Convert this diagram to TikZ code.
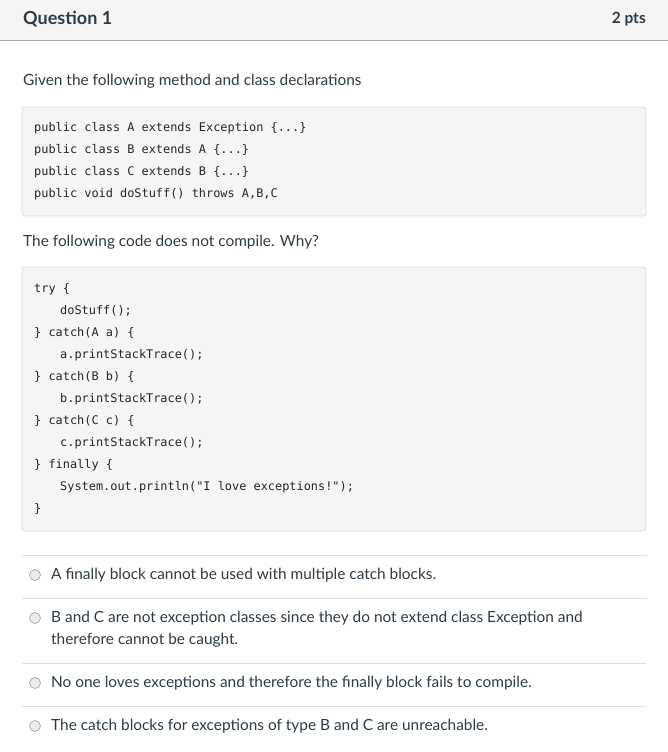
\documentclass[tikz,border=0pt]{standalone}
\usepackage{fontspec}
\setmainfont{Lato}
\setmonofont{DejaVu Sans Mono}
\definecolor{bandbg}{HTML}{F5F5F5}
\definecolor{codebg}{HTML}{F5F5F5}
\definecolor{rule}{HTML}{DDDDDD}
\definecolor{txt}{HTML}{2D3B45}
\begin{document}
\begin{tikzpicture}[x=1pt,y=-1pt,
  body/.style={anchor=west,inner sep=0pt,text=txt,font=\fontsize{15.4}{18}\selectfont},
  code/.style={anchor=west,inner sep=0pt,text=black!85,font=\ttfamily\fontsize{11.9}{14}\selectfont},
  codebox/.style={fill=codebg,draw=rule,rounded corners=3pt,line width=0.8pt},
  sep/.style={draw=rule,line width=0.8pt},
  radio/.style={circle,draw=black!35,fill=black!8,minimum size=11pt,inner sep=0pt,line width=0.7pt}]
\useasboundingbox (0,0) rectangle (668,752);
\fill[white] (0,0) rectangle (668,752);
\fill[bandbg] (0,0) rectangle (668,41);
\draw[black!35,line width=1pt] (0,41) -- (668,41);
\node[body,font=\bfseries\fontsize{18}{20}\selectfont] (q) at (23,19) {Question 1};
\node[body,anchor=east,font=\bfseries\fontsize{15.5}{18}\selectfont] (pts) at (646,19) {2 pts};
\node[body] (given) at (23,81) {Given the following method and class declarations};
\path[codebox] (22,107) rectangle (646,216);
\node[code] (c1) at (34,128) {public class A extends Exception \{...\}};
\node[code] (c2) at (34,150) {public class B extends A \{...\}};
\node[code] (c3) at (34,172) {public class C extends B \{...\}};
\node[code] (c4) at (34,194) {public void doStuff() throws A,B,C};
\node[body] (why) at (23,242) {The following code does not compile. Why?};
\path[codebox] (22,267) rectangle (646,531);
\node[code] (t1) at (34,289) {try \{};
\node[code] (t2) at (60,311) {doStuff();};
\node[code] (t3) at (34,333) {\} catch(A a) \{};
\node[code] (t4) at (60,355) {a.printStackTrace();};
\node[code] (t5) at (34,377) {\} catch(B b) \{};
\node[code] (t6) at (60,399) {b.printStackTrace();};
\node[code] (t7) at (34,421) {\} catch(C c) \{};
\node[code] (t8) at (60,443) {c.printStackTrace();};
\node[code] (t9) at (34,465) {\} finally \{};
\node[code] (t10) at (60,487) {System.out.println("I love exceptions!");};
\node[code] (t11) at (34,509) {\}};
\foreach \y in {555,598,663,706} \draw[sep] (22,\y) -- (646,\y);
\node[radio] (r1) at (35,575) {};
\node[body] (o1) at (51,575) {A finally block cannot be used with multiple catch blocks.};
\node[radio] (r2) at (35,618) {};
\node[body] (o2a) at (51,618) {B and C are not exception classes since they do not extend class Exception and};
\node[body] (o2b) at (51,640) {therefore cannot be caught.};
\node[radio] (r3) at (35,683) {};
\node[body] (o3) at (51,683) {No one loves exceptions and therefore the finally block fails to compile.};
\node[radio] (r4) at (35,726) {};
\node[body] (o4) at (51,726) {The catch blocks for exceptions of type B and C are unreachable.};
\end{tikzpicture}
\end{document}
